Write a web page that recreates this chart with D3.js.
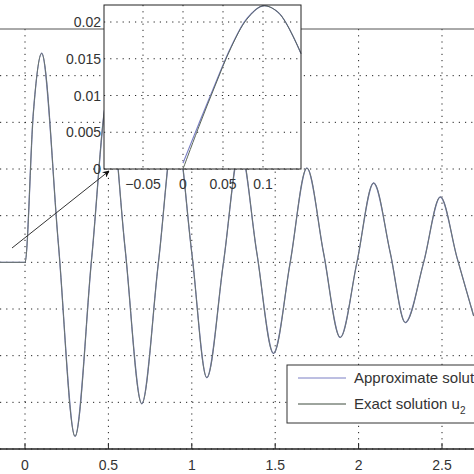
<!doctype html>
<html>
<head>
<script src="https://d3js.org/d3.v7.min.js"></script>
<style>body{margin:0;background:#fff} text{font-family:"Liberation Sans",Arial,sans-serif;fill:#333}</style>
</head>
<body>
<svg id="c" width="474" height="474"></svg>
<script>
// main curve samples (extrema and zero crossings)
var mainX = [-0.3, 0, 0.05, 0.1, 0.2, 0.3, 0.4, 0.5, 0.6, 0.7, 0.8, 0.9, 1.0, 1.09, 1.19, 1.29, 1.39, 1.49, 1.59, 1.69, 1.79, 1.89, 1.99, 2.09, 2.19, 2.28, 2.39, 2.49, 2.59, 2.69];
var mainY = [0, 0, 3.2, 4.48, 0.4, -3.73, 0.1, 3.6, 0.3, -3.03, 0, 2.95, 0.2, -2.47, 0, 2.45, 0.2, -1.95, 0, 2.02, 0.2, -1.61, 0, 1.70, 0.2, -1.29, 0, 1.40, 0.1, -1.15];
var mainXTicks = [0, 0.5, 1, 1.5, 2, 2.5];
var mainYGrid = [-4, -3, -2, -1, 0, 1, 2, 3, 4];

// zoomed inset
var insetX = [0, 0.02, 0.04, 0.06, 0.08, 0.1, 0.12, 0.1475];
var exactY = [0, 0.0058, 0.0113, 0.0165, 0.0204, 0.0222, 0.0212, 0.0157];
var approxY = [0.0008, 0.0062, 0.0115, 0.0166, 0.0205, 0.0222, 0.0212, 0.0157];
var insetXTicks = [-0.05, 0, 0.05, 0.1];
var insetYTicks = [0, 0.005, 0.01, 0.015, 0.02];

var legendLabels = ["Approximate solution", "Exact solution u"];
var colors = ["#7a7fc4", "#3c4a3c"];

var svg = d3.select("#c");

// main plot
var x = d3.scaleLinear().domain([0, 2.5]).range([25, 442]);
var y = d3.scaleLinear().domain([-4, 5]).range([449, 29]);

var g = svg.append("g");
g.selectAll(".vg").data(mainXTicks).enter().append("line")
    .attr("x1", d => x(d)).attr("x2", d => x(d)).attr("y1", 29).attr("y2", 449)
    .attr("stroke", "#222").attr("stroke-dasharray", "1.2,5");
g.selectAll(".hg").data(mainYGrid).enter().append("line")
    .attr("x1", 0).attr("x2", 474).attr("y1", d => y(d)).attr("y2", d => y(d))
    .attr("stroke", "#222").attr("stroke-dasharray", "1.2,5");
g.append("line").attr("x1", 0).attr("x2", 474).attr("y1", 29).attr("y2", 29).attr("stroke", "#555");
g.append("line").attr("x1", 0).attr("x2", 474).attr("y1", 449).attr("y2", 449).attr("stroke", "#222").attr("stroke-width", 1.3);
g.selectAll(".tk").data(mainXTicks).enter().append("line")
    .attr("x1", d => x(d)).attr("x2", d => x(d)).attr("y1", 443).attr("y2", 449).attr("stroke", "#222");
g.selectAll(".tl").data(mainXTicks).enter().append("text")
    .attr("x", d => x(d)).attr("y", 470).attr("text-anchor", "middle").attr("font-size", 14)
    .text(d => d);

var line = d3.line().x(d => x(d[0])).y(d => y(d[1])).curve(d3.curveMonotoneX);
var mainPts = mainX.map((v, i) => [v, mainY[i]]);
g.append("path").attr("d", line(mainPts)).attr("fill", "none").attr("stroke", colors[0]).attr("stroke-width", 1.3);
g.append("path").attr("d", line(mainPts)).attr("fill", "none").attr("stroke", "#6a746a").attr("stroke-width", 1);

// legend
var lg = svg.append("g");
lg.append("rect").attr("x", 287).attr("y", 365).attr("width", 200).attr("height", 58)
    .attr("fill", "#fff").attr("stroke", "#333");
legendLabels.forEach(function (t, i) {
    var ly = 378 + i * 26;
    lg.append("line").attr("x1", 298).attr("x2", 346).attr("y1", ly).attr("y2", ly).attr("stroke", colors[i]);
    var tx = lg.append("text").attr("x", 354).attr("y", ly + 5).attr("font-size", 15).text(t);
    if (i == 1) tx.append("tspan").attr("dy", 5).attr("font-size", 10).text("2");
});

// arrow
svg.append("defs").append("marker").attr("id", "ah").attr("viewBox", "0 0 10 10")
    .attr("refX", 9).attr("refY", 5).attr("markerWidth", 7).attr("markerHeight", 7).attr("orient", "auto")
    .append("path").attr("d", "M0,0L10,5L0,10L3,5Z").attr("fill", "#111");
svg.append("line").attr("x1", 12).attr("y1", 248).attr("x2", 109).attr("y2", 171)
    .attr("stroke", "#333").attr("marker-end", "url(#ah)");

// inset
var ix = d3.scaleLinear().domain([-0.05, 0.1]).range([143, 263]);
var iy = d3.scaleLinear().domain([0, 0.02]).range([169, 22]);
var L = 104, R = 301, T = 5, B = 169;
var ig = svg.append("g");
ig.append("rect").attr("x", L).attr("y", T).attr("width", R - L).attr("height", B - T).attr("fill", "#fff");
ig.selectAll(".ivg").data(insetXTicks).enter().append("line")
    .attr("x1", d => ix(d)).attr("x2", d => ix(d)).attr("y1", T).attr("y2", B)
    .attr("stroke", "#222").attr("stroke-dasharray", "1.2,5");
ig.selectAll(".ihg").data(insetYTicks).enter().append("line")
    .attr("x1", L).attr("x2", R).attr("y1", d => iy(d)).attr("y2", d => iy(d))
    .attr("stroke", "#222").attr("stroke-dasharray", "1.2,5");
var il = d3.line().x(d => ix(d[0])).y(d => iy(d[1])).curve(d3.curveCatmullRom);
ig.append("path").attr("d", il(insetX.map((v, i) => [v, approxY[i]]))).attr("fill", "none").attr("stroke", colors[0]).attr("stroke-width", 1.2);
ig.append("path").attr("d", il(insetX.map((v, i) => [v, exactY[i]]))).attr("fill", "none").attr("stroke", "#5a665a").attr("stroke-width", 1);
ig.append("rect").attr("x", L).attr("y", T).attr("width", R - L).attr("height", B - T).attr("fill", "none").attr("stroke", "#222");
ig.selectAll(".ixl").data(insetXTicks).enter().append("text")
    .attr("x", d => ix(d)).attr("y", 189).attr("text-anchor", "middle").attr("font-size", 14)
    .text(d => d == 0 ? "0" : (d < 0 ? "\u2212" + Math.abs(d) : d));
ig.selectAll(".iyl").data(insetYTicks).enter().append("text")
    .attr("x", 101).attr("y", d => iy(d) + 5).attr("text-anchor", "end").attr("font-size", 14)
    .text(d => d);
</script>
</body>
</html>
